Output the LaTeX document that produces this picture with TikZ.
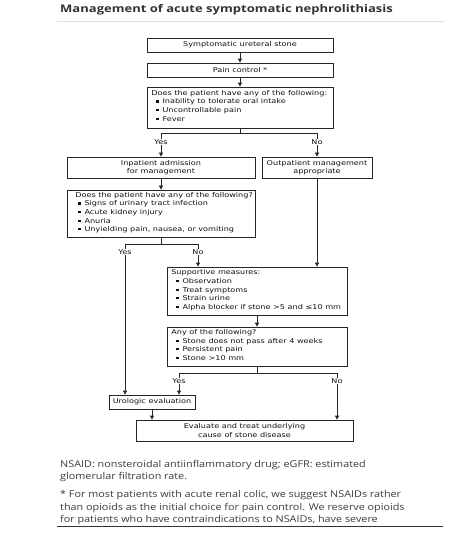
\documentclass[tikz,border=0pt]{standalone}
\usepackage{fontspec}
\setmainfont{DejaVu Sans}
\newfontfamily\boxf{DejaVu Sans}[FakeStretch=1.23]
\newfontfamily\osans{Open Sans}[FakeStretch=1.15]
\newfontfamily\tsans{Open Sans}[FakeStretch=1.24]
\usetikzlibrary{arrows.meta}
\newcommand\bl[1]{\hspace*{#1pt}\rule[1.3pt]{2.2pt}{2.2pt}\hspace{4pt}}
\definecolor{titlegray}{HTML}{333333}
\definecolor{footgray}{HTML}{3C3C3C}
\definecolor{boxtext}{HTML}{111111}
\begin{document}
\begin{tikzpicture}[x=1pt,y=-1pt,
  box/.style={draw=black!85, line width=0.75pt, inner sep=0pt},
  txt/.style={font=\boxf\fontsize{6.6}{8.6}\selectfont, text=boxtext, inner sep=0pt, align=left, anchor=north west},
  ctxt/.style={font=\boxf\fontsize{6.6}{8.3}\selectfont, text=boxtext, align=center},
  lab/.style={font=\boxf\fontsize{6.6}{8}\selectfont, text=boxtext, inner sep=0.6pt},
  arr/.style={-{Triangle[length=4pt,width=4pt]}, line width=0.75pt, draw=black!85},
  ln/.style={line width=0.75pt, draw=black!85},
  foot/.style={font=\osans\fontsize{9.4}{12.6}\selectfont, text=footgray, inner sep=0pt, align=left, anchor=north west}]
\useasboundingbox[fill=white] (0,0) rectangle (474,534);
% title
\node[font=\tsans\bfseries\fontsize{10.5}{13}\selectfont, text=titlegray, inner sep=0pt, anchor=base west] (title) at (60,12.5) {Management of acute symptomatic nephrolithiasis};
\draw[gray!25, line width=0.6pt] (57,21) coordinate (r1) -- (445,21) coordinate (r2);
% boxes
\node[box, ctxt, minimum width=186pt, minimum height=14pt] (b1) at (240,45) {Symptomatic ureteral stone};
\node[box, ctxt, minimum width=186pt, minimum height=14pt] (b2) at (240,70) {Pain control *};
\node[box, minimum width=186pt, minimum height=41pt] (b3) at (240,107.5) {};
\node[txt] (t3) at ([shift={(4.5,3.4)}]b3.north west) {Does the patient have any of the following:\\
\bl{5}Inability to tolerate oral intake\\
\bl{5}Uncontrollable pain\\
\bl{5}Fever};
\node[box, ctxt, minimum width=188pt, minimum height=21pt] (b4) at (161,167.5) {Inpatient admission\\for management};
\node[box, ctxt, minimum width=110pt, minimum height=21pt] (b5) at (317,167.5) {Outpatient management\\appropriate};
\node[box, minimum width=188pt, minimum height=47pt] (b6) at (161,213.5) {};
\node[txt] (t6) at ([shift={(8.5,2.4)}]b6.north west) {Does the patient have any of the following?\\
\bl{3}Signs of urinary tract infection\\
\bl{3}Acute kidney injury\\
\bl{3}Anuria\\
\bl{3}Unyielding pain, nausea, or vomiting};
\node[box, minimum width=180pt, minimum height=48pt] (b7) at (257,291) {};
\node[txt] (t7) at ([shift={(4.5,3)}]b7.north west) {Supportive measures:\\
\bl{5}Observation\\
\bl{5}Treat symptoms\\
\bl{5}Strain urine\\
\bl{5}Alpha blocker if stone >5 and ≤10 mm};
\node[box, minimum width=180pt, minimum height=39pt] (b8) at (257,346.5) {};
\node[txt] (t8) at ([shift={(4.5,2.6)}]b8.north west) {Any of the following?\\
\bl{5}Stone does not pass after 4 weeks\\
\bl{5}Persistent pain\\
\bl{5}Stone >10 mm};
\node[box, ctxt, minimum width=86pt, minimum height=14pt] (b9) at (152,402) {Urologic evaluation};
\node[box, ctxt, minimum width=217pt, minimum height=21pt] (b10) at (244.5,430.5) {Evaluate and treat underlying\\cause of stone disease};
% connectors
\draw[arr] (b1) -- (b2);
\draw[arr] (b2) -- (b3);
% branch 1
\draw[ln] (b3.south) -- ++(0,5.5) coordinate (j1);
\node[lab] (y1) at (161,142) {Yes};
\node[lab] (n1) at (317,142) {No};
\draw[ln] (y1.north) |- (j1) -| (n1.north);
\draw[arr] (y1.south) -- (b4.north);
\draw[arr] (n1.south) -- (b5.north);
\draw[arr] (b4) -- (b6);
% branch 2
\draw[ln] (b6.south) -- ++(0,7) coordinate (j2);
\node[lab] (y2) at (125,252) {Yes};
\node[lab] (n2) at (198,252) {No};
\draw[ln] (y2.north) |- (j2) -| (n2.north);
\draw[arr] (y2.south) -- (y2.south |- b9.north);
\draw[arr] (n2.south) -- (n2.south |- b7.north);
\draw[arr] (b5.south) -- (b5.south |- b7.north);
\draw[arr] (b7) -- (b8);
% branch 3
\draw[ln] (b8.south) -- ++(0,7) coordinate (j3);
\node[lab] (y3) at (179,381) {Yes};
\node[lab] (n3) at (337,381) {No};
\draw[ln] (y3.north) |- (j3) -| (n3.north);
\draw[arr] (y3.south) -- (y3.south |- b9.north);
\draw[arr] (n3.south) -- (n3.south |- b10.north);
\draw[arr] (b9.south) -- (b9.south |- b10.north);
% footnotes
\node[foot] (f1) at (60,459.8) {NSAID: nonsteroidal antiinflammatory drug; eGFR: estimated\\glomerular filtration rate.};
\node[foot] (f2) at (60,490.3) {* For most patients with acute renal colic, we suggest NSAIDs rather\\than opioids as the initial choice for pain control. We reserve opioids\\for patients who have contraindications to NSAIDs, have severe};
\draw[black!80, line width=0.8pt] (57,526) coordinate (u1) -- (443,526) coordinate (u2);
\end{tikzpicture}
\end{document}
